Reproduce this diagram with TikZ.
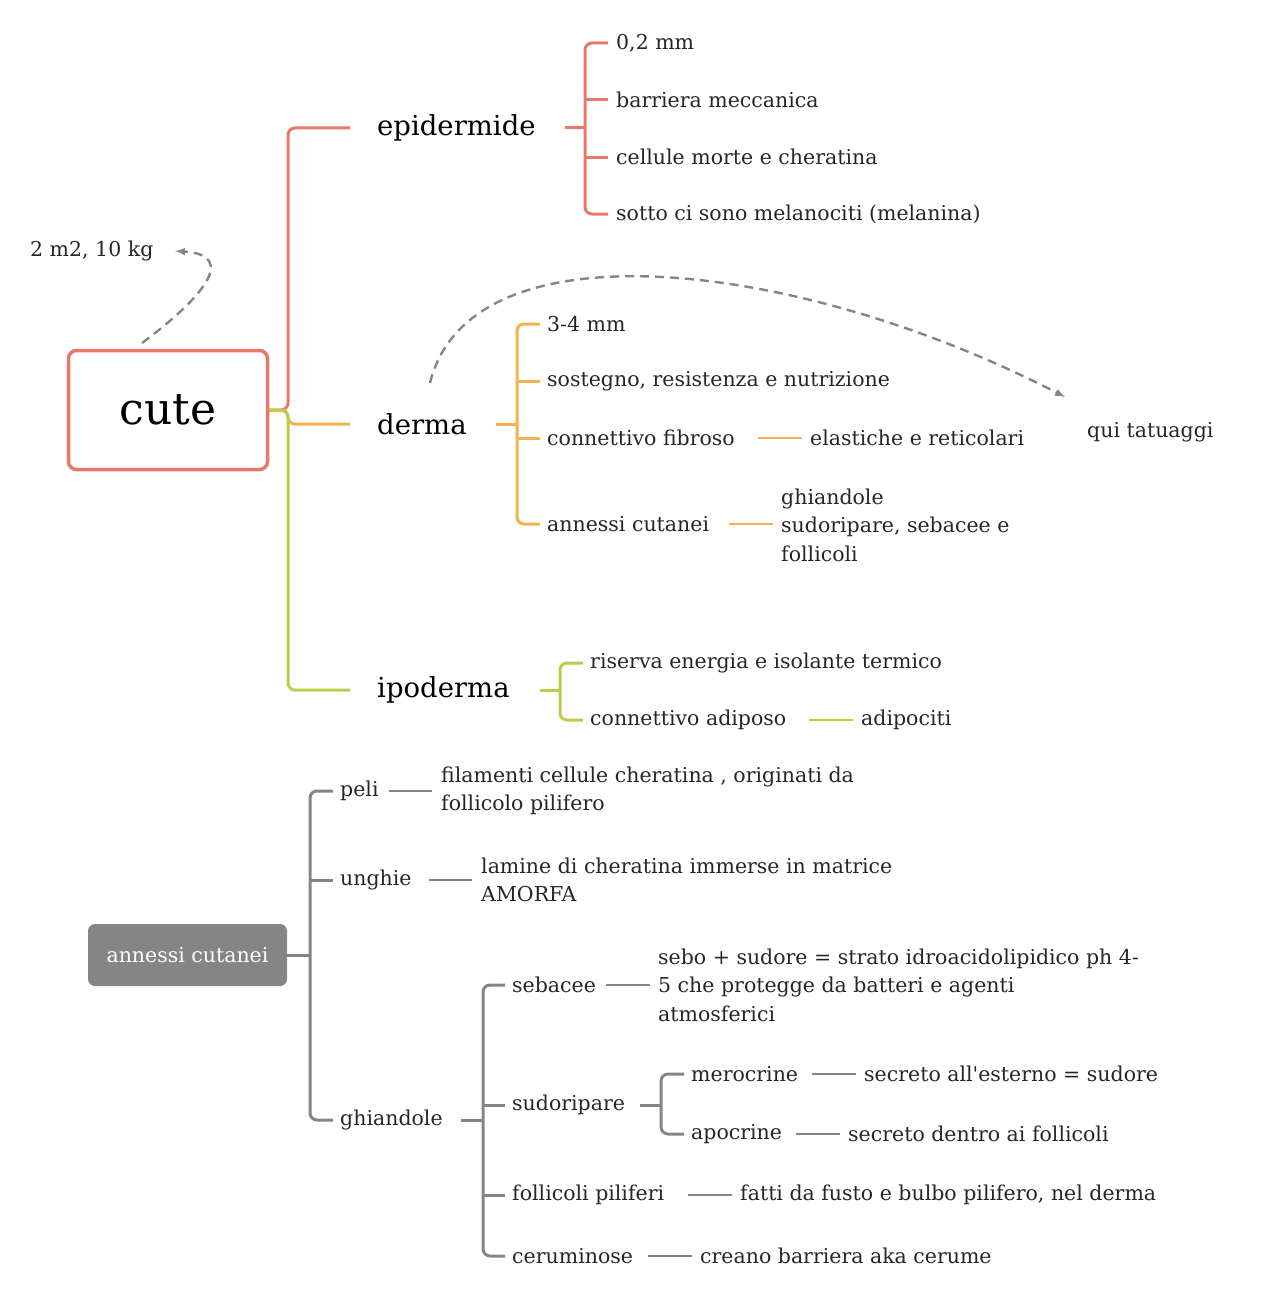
\documentclass[tikz,border=0pt]{standalone}
\usepackage{fontspec}
\setmainfont{DejaVu Serif}
\definecolor{cE}{HTML}{E8796A}
\definecolor{cD}{HTML}{F5B04F}
\definecolor{cI}{HTML}{BFCB4C}
\definecolor{cG}{HTML}{858585}
\begin{document}
\begin{tikzpicture}[x=1pt,y=-1pt,
 t/.style={anchor=west,inner sep=0pt,font=\fontsize{20.5}{24}\selectfont,text=black!85},
 tl/.style={t,align=left,font=\fontsize{20.5}{28.5}\selectfont},
 h/.style={anchor=west,inner sep=0pt,font=\fontsize{27.5}{30}\selectfont},
 br/.style={line width=3pt,rounded corners=7pt},
 ln/.style={line width=2.4pt},
 dsh/.style={cG,line width=2.4pt,dash pattern=on 9pt off 6pt,-latex}]
\useasboundingbox (0,0) rectangle (1280,1303);
% main
\node[draw=cE,line width=3.5pt,rounded corners=8pt,minimum width=199pt,minimum height=119pt,font=\fontsize{44}{48}\selectfont] (cute) at (168,410) {cute};
\node[h] (epi) at (377,128) {epidermide};
\node[h] (der) at (377,424) {derma};
\node[h] (ipo) at (377,690) {ipoderma};
\draw[br,cE] (cute.east) -- (288,410) |- (350,128);
\draw[br,cD] (cute.east) -- (288,410) |- (350,424);
\draw[br,cI] (cute.east) -- (288,410) |- (350,690);
% epidermide
\foreach \n/\y/\s in {e1/43/{0,2 mm},e2/100/barriera meccanica,e3/157/cellule morte e cheratina,e4/214/sotto ci sono melanociti (melanina)}
 \node[t] (\n) at (616,\y) {\s};
\draw[br,cE] (565,128) -- (585,128);
\draw[br,cE] (608,43) -| (585,214) -- (608,214);
\draw[br,cE] (585,100) -- (608,100) (585,157) -- (608,157);
% derma
\foreach \n/\y/\s in {d1/324/3-4 mm,d2/381/{sostegno, resistenza e nutrizione},d3/438/connettivo fibroso,d4/524/annessi cutanei}
 \node[t] (\n) at (547,\y) {\s};
\draw[br,cD] (496,424) -- (517,424);
\draw[br,cD] (540,324) -| (517,524) -- (540,524);
\draw[br,cD] (517,381) -- (540,381) (517,438) -- (540,438);
\node[t] (d3a) at (810,438) {elastiche e reticolari};
\draw[ln,cD] (758,438) -- (802,438);
\node[tl] (d4a) at (781,525) {ghiandole\\sudoripare, sebacee e\\follicoli};
\draw[ln,cD] (729,524) -- (773,524);
% ipoderma
\node[t] (i1) at (590,663) {riserva energia e isolante termico};
\node[t] (i2) at (590,720) {connettivo adiposo};
\node[t] (i2a) at (861,720) {adipociti};
\draw[br,cI] (540,690) -- (560,690);
\draw[br,cI] (583,663) -| (560,720) -- (583,720);
\draw[ln,cI] (809,720) -- (853,720);
% dashed
\node[t] (kg) at (30,251) {2 m2, 10 kg};
\node[t] (tat) at (1087,432) {qui tatuaggi};
\draw[dsh] (142,343) .. controls (200,300) and (240,255) .. (175,251);
\draw[dsh] (430,383) .. controls (470,220) and (800,260) .. (1065,397);
% annessi
\node[fill=cG,rounded corners=7pt,minimum width=199pt,minimum height=62pt,text=white,font=\fontsize{20.5}{24}\selectfont] (ann) at (187.5,955) {annessi cutanei};
\node[t] (p) at (340,791) {peli};
\node[t] (u) at (340,880) {unghie};
\node[t] (g) at (340,1120) {ghiandole};
\draw[br,cG] (ann.east) -- (310,955);
\draw[br,cG] (333,791) -| (310,1120) -- (333,1120);
\draw[br,cG] (310,880) -- (333,880);
\node[tl] (pa) at (441,791) {filamenti cellule cheratina , originati da\\follicolo pilifero};
\draw[ln,cG] (389,791) -- (432,791);
\node[tl] (ua) at (481,880) {lamine di cheratina immerse in matrice\\AMORFA};
\draw[ln,cG] (429,880) -- (472,880);
\draw[br,cG] (461,1120) -- (483,1120);
\draw[br,cG] (505,985) -| (483,1256) -- (505,1256);
\draw[br,cG] (483,1105) -- (505,1105) (483,1195) -- (505,1195);
\node[t] (s) at (512,985) {sebacee};
\node[t] (sd) at (512,1105) {sudoripare};
\node[t] (f) at (512,1195) {follicoli piliferi};
\node[t] (c) at (512,1256) {ceruminose};
\node[tl] (sa) at (658,985) {sebo + sudore = strato idroacidolipidico ph 4-\\5 che protegge da batteri e agenti\\atmosferici};
\draw[ln,cG] (606,985) -- (650,985);
\draw[br,cG] (640,1105) -- (661,1105);
\draw[br,cG] (684,1074) -| (661,1134) -- (684,1134);
\node[t] (m) at (691,1074) {merocrine};
\node[t] (a) at (691,1134) {apocrine};
\node[t] (ma) at (864,1074) {secreto all\textquotesingle esterno = sudore};
\node[t] (aa) at (848,1134) {secreto dentro ai follicoli};
\draw[ln,cG] (812,1074) -- (856,1074);
\draw[ln,cG] (796,1134) -- (840,1134);
\node[t] (fa) at (740,1195) {fatti da fusto e bulbo pilifero, nel derma};
\draw[ln,cG] (688,1195) -- (732,1195);
\node[t] (ca) at (700,1256) {creano barriera aka cerume};
\draw[ln,cG] (648,1256) -- (692,1256);
\end{tikzpicture}
\end{document}
